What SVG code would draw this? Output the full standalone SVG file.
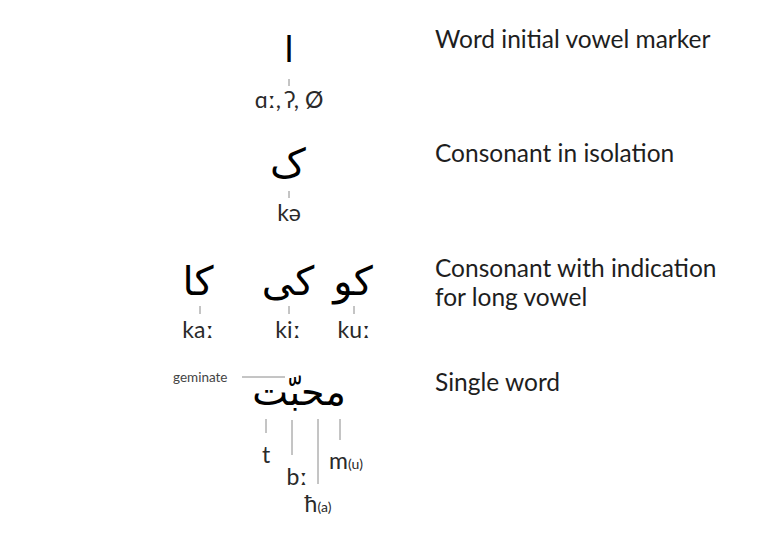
<svg xmlns="http://www.w3.org/2000/svg" width="768" height="539" viewBox="0 0 768 539">
<style>
.lab{font-family:Lato,"Open Sans","Liberation Sans",sans-serif;font-size:24.5px;fill:#1e1e1e}
.ipa{font-family:Lato,"DejaVu Sans",sans-serif;font-size:23px;fill:#2a2a2a;text-anchor:middle}
.ar{font-family:"DejaVu Sans","Noto Sans",sans-serif;fill:#000;text-anchor:middle}
.sub{font-size:14px}
.tk{stroke:#8a8a8a;stroke-width:1;fill:none}
</style>
<rect width="768" height="539" fill="#fff"/>
<g id="row1">
<text class="ar" x="289" y="62" font-size="36">ا</text>
<text class="ipa" x="289" y="108">ɑː, ʔ, Ø</text>
<text class="lab" x="435" y="48">Word initial vowel marker</text>
</g>
<g id="row2">
<text class="ar" x="288" y="177" font-size="40">ک</text>
<text class="ipa" x="289" y="221">kə</text>
<text class="lab" x="435" y="162">Consonant in isolation</text>
</g>
<g id="row3">
<text class="ar" x="198" y="295" font-size="40">کا</text>
<text class="ar" x="288" y="295" font-size="40">کی</text>
<text class="ar" x="353" y="295" font-size="40">کو</text>
<text class="ipa" x="198" y="338">kaː</text>
<text class="ipa" x="288" y="338">kiː</text>
<text class="ipa" x="354" y="338">kuː</text>
<text class="lab" x="435" y="277">Consonant with indication</text>
<text class="lab" x="435" y="306">for long vowel</text>
</g>
<g id="row4">
<text x="173" y="382" style="font-family:Lato,'Liberation Sans',sans-serif;font-size:13.5px;fill:#444">geminate</text>
<text class="ar" x="299" y="405" font-size="38">محبّت</text>
<text class="ipa" x="266" y="463">t</text>
<text class="ipa" x="297" y="485">bː</text>
<text class="ipa" x="318" y="512">ħ<tspan class="sub">(a)</tspan></text>
<text class="ipa" x="346" y="469">m<tspan class="sub">(u)</tspan></text>
<text class="lab" x="435" y="391">Single word</text>
</g>
<g id="connectors" class="tk">
<line x1="289" y1="79" x2="289" y2="86"/>
<line x1="289" y1="191" x2="289" y2="198"/>
<line x1="200" y1="306" x2="200" y2="314"/>
<line x1="289" y1="306" x2="289" y2="314"/>
<line x1="354" y1="306" x2="354" y2="314"/>
<line x1="242" y1="377" x2="285" y2="377"/>
<line x1="266" y1="419" x2="266" y2="433"/>
<line x1="292" y1="420" x2="292" y2="455"/>
<line x1="318" y1="419" x2="318" y2="484"/>
<line x1="340" y1="419" x2="340" y2="440"/>
</g>
</svg>
